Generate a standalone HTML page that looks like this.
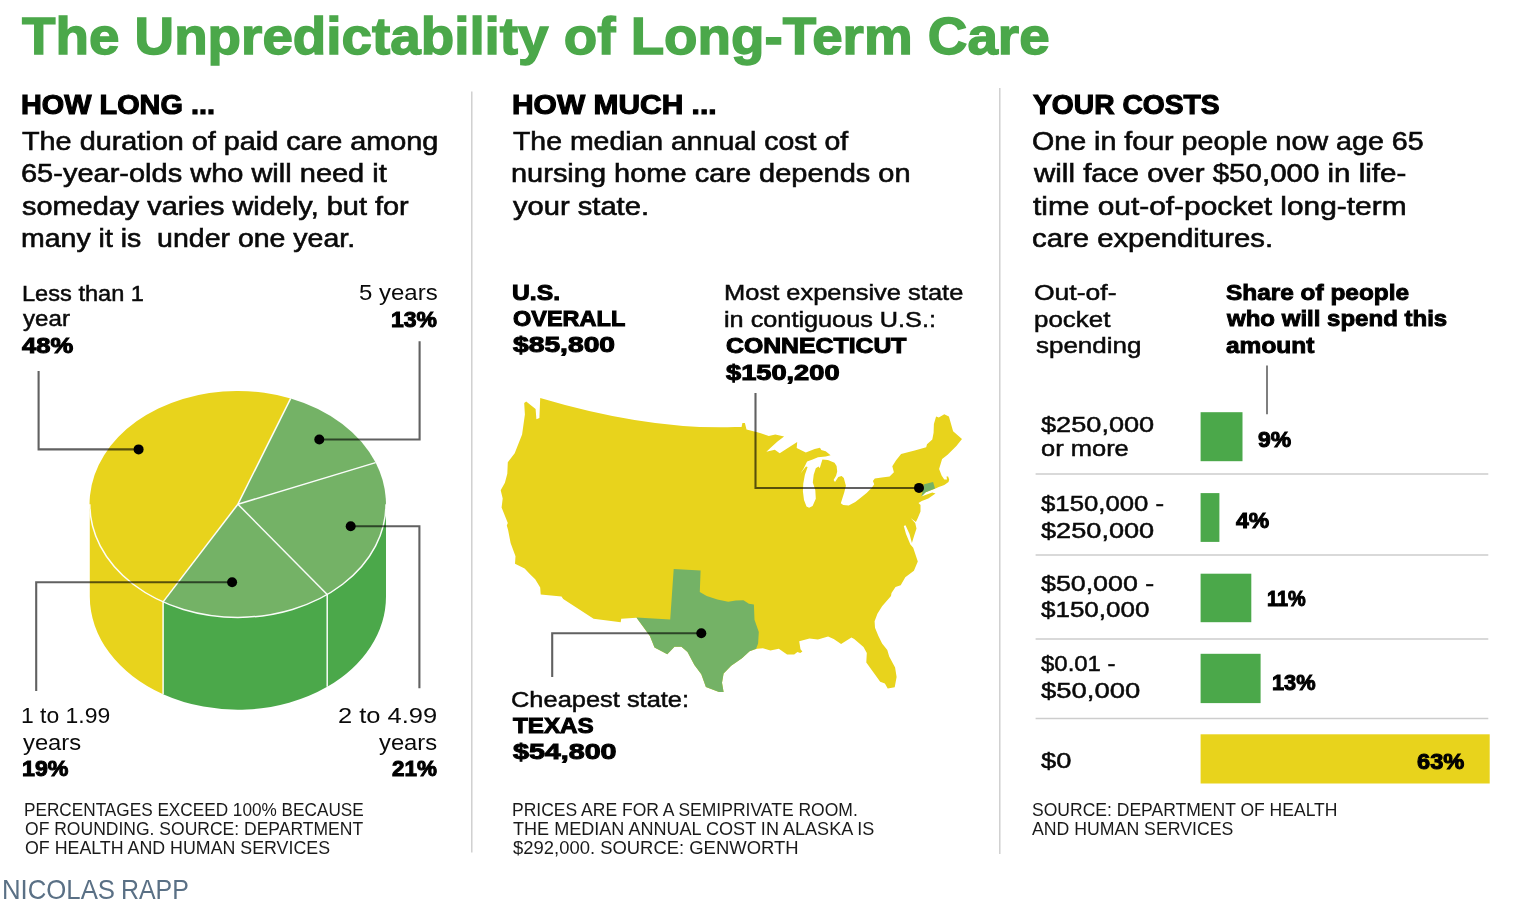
<!DOCTYPE html>
<html><head><meta charset="utf-8"><title>The Unpredictability of Long-Term Care</title>
<style>
html,body{margin:0;padding:0;background:#fff;}
body{width:1536px;height:913px;position:relative;overflow:hidden;font-family:"Liberation Sans",sans-serif;}
.t{position:absolute;white-space:pre;line-height:1;transform-origin:0 0;font-family:"Liberation Sans",sans-serif;}
</style></head><body>
<div id="g" style="position:absolute;left:0;top:0;width:1536px;height:870px;overflow:hidden;filter:blur(0.45px)">
<svg width="1536" height="913" viewBox="0 0 1536 913" style="position:absolute;left:0;top:0">
<path d="M386.0,504.2 A148.1,113.2 0 0 1 327.2,594.5 L327.2,686.8 A148.1,113.2 0 0 0 386.0,596.5 Z" fill="#4ba84a"/>
<path d="M327.2,594.5 A148.1,113.2 0 0 1 163.1,601.9 L163.1,694.2 A148.1,113.2 0 0 0 327.2,686.8 Z" fill="#4ba84a"/>
<path d="M163.1,601.9 A148.1,113.2 0 0 1 89.8,504.2 L89.8,596.5 A148.1,113.2 0 0 0 163.1,694.2 Z" fill="#e8d31c"/>
<path d="M237.9,504.2 L163.1,601.9 A148.1,113.2 0 0 1 290.7,398.4 Z" fill="#e8d31c"/>
<path d="M237.9,504.2 L290.7,398.4 A148.1,113.2 0 0 1 375.6,462.6 Z" fill="#74b266"/>
<path d="M237.9,504.2 L375.6,462.6 A148.1,113.2 0 0 1 327.2,594.5 Z" fill="#74b266"/>
<path d="M237.9,504.2 L327.2,594.5 A148.1,113.2 0 0 1 163.1,601.9 Z" fill="#74b266"/>
<path d="M237.9,504.2 L290.7,398.4" stroke="#fff" stroke-width="1.5" fill="none" stroke-opacity="0.95"/>
<path d="M237.9,504.2 L375.6,462.6" stroke="#fff" stroke-width="1.5" fill="none" stroke-opacity="0.95"/>
<path d="M237.9,504.2 L327.2,594.5" stroke="#fff" stroke-width="1.5" fill="none" stroke-opacity="0.95"/>
<path d="M237.9,504.2 L163.1,601.9" stroke="#fff" stroke-width="1.5" fill="none" stroke-opacity="0.95"/>
<path d="M327.2,594.5 L327.2,686.8" stroke="#fff" stroke-width="1.5" fill="none" stroke-opacity="0.95"/>
<path d="M163.1,601.9 L163.1,694.2" stroke="#fff" stroke-width="1.5" fill="none" stroke-opacity="0.95"/>
<path d="M386.0,504.2 A148.1,113.2 0 0 1 89.8,504.2" stroke="#fff" stroke-width="1.5" fill="none" stroke-opacity="0.95"/>
<path d="M38.6,371 V449.4 H138.6" stroke="#000" stroke-opacity="0.62" stroke-width="2.1" fill="none"/>
<path d="M419.6,341.2 V439.5 H319.3" stroke="#000" stroke-opacity="0.62" stroke-width="2.1" fill="none"/>
<path d="M36.2,691 V582.2 H232.1" stroke="#000" stroke-opacity="0.62" stroke-width="2.1" fill="none"/>
<path d="M419.4,688.3 V526.3 H350.7" stroke="#000" stroke-opacity="0.62" stroke-width="2.1" fill="none"/>
<circle cx="138.6" cy="449.4" r="5" fill="#000"/>
<circle cx="319.3" cy="439.5" r="5" fill="#000"/>
<circle cx="232.1" cy="582.2" r="5" fill="#000"/>
<circle cx="350.7" cy="526.3" r="5" fill="#000"/>
<path d="M540.2,397.9 Q648,429.95 735,427 L741.6,427 742.4,422.9 744.9,422.9 746.5,429.4 756.4,431.9 760,432.9 768.8,435.9 775.3,434.5 784.1,436.6 777.5,441.4 770.9,447.4 766.4,451.8 774.8,449.8 779.7,453.2 797.2,441.9 796.7,447.9 805.8,452.5 814.7,449 820,447.7 821.3,450.1 825.7,451.2 830.6,455.3 825.7,456.4 818,457.2 812.6,459.6 807.1,461.4
803.8,468.2 800.3,473.7 806,466.5 807.6,467.1
804.9,474.7 803.3,483.5 802.9,491.2 804,499.9 806.5,506.5 809.1,507.8 812.6,506 815.8,498.8 815.3,490.1 812.8,482.4 813.7,474.7 815.8,468.2 818.6,466.5 819.7,468.2 822.4,459.4
827.9,460 834.5,462.7 836.6,466 837.2,471.5 836.1,475.8 833.6,480 835,481.9 838.3,476.9 841.6,476.1 843.8,478 845.9,485.7 844.3,492.3 840.8,503.2
843.2,504.9 848.7,505.4 855.3,502.1 860.7,497.7 866.6,493.1 872,487.6 874.2,484.3 872.9,481 874.8,478.6
881.9,477.5 889.6,476.6 893.9,472.3 892.3,466.2 896.1,460.2 901.1,453.9
914.7,450.4 926.2,447.3 927,444.3 932.3,439.4 933.6,432.8 933.9,424.1 936.1,416.4 938.8,417.5 944.3,414.2 948.9,416.4 953.1,431.2 962,438.9 956.4,446 947.6,454.7 942.1,459.1 939.1,469 941.6,475.5 944.3,479.4 947,479.4 946.5,476.6 948.1,476.6 949.2,479.4 948.5,482.1 944.3,484.9 938.8,487 935,488.7
925.7,492.3 921.3,496.4
932.3,492.5 935.5,493.6 928.3,498.4 921.8,501 918.5,503
920.5,505 920.5,511.5 917.8,518.1 915.9,522.1
910.6,518.1 915.2,522.9
916.5,528.6 913.9,536.5 911.9,543.1
909.5,534 905.5,525.3 903.8,526 906,534 910.4,544.6
913.2,547.7 917.8,561.5 913.9,570.7 905.3,577.3 900.7,585.2 895.5,587.1 891.5,593
891,596.1 882.1,606.3 877.4,613.8 874.6,621.2 875,627.7 878.4,636.1 882.1,643.6 887.3,650.1 889.2,656.6 895.1,667.4 896.6,677.1 894.7,687.3 887.7,688.6 884.9,683.6 880.2,681.7 866.3,662.6 866.8,652.9 863.5,646.9 854.2,638.9 851.4,637.6 841.1,643.9 833.7,638.9 828.1,636.5 817.9,639.5 809.5,638.4 799.2,641.3 800.5,649.2 802.4,651.4 800.2,652.9 797.4,651.9 794.2,654.4 787.1,654.4 778.8,648.8 770.4,650.6 762.9,648.2 757,648.8
749.6,651.3 742,658.2 731.2,665.8 723.6,673.5 722,682.7 723.6,691.9 719,691.9 705.9,687 701.3,674.3 694.4,665.1 687.5,652 681.4,646.7 674.5,646.7 667.3,654.3 654.5,647.4 649.9,635.9 636.5,617.7
621.2,618.7 620.7,622.3 593.6,618.7 563.2,599 561.5,596.5 540.7,594.4
540.2,587.5 535.2,579.3 530.3,574.4 524.6,568.6 515,563.7 515.5,556.3 510.6,543.1 508.1,530 506.8,525.5 507.8,523.1 501.6,507.5 502.7,498.4 500.7,490.2 504.9,482.8 507.3,473.8 507.8,462.3 514.7,453.2 522.1,434.4 524.9,414.6 524.2,403.1 526.2,401.5 535.6,408.9 536.4,419.2 539.4,417.9 Z" fill="#e8d31c"/>
<path d="M636.4,617.5 L670.2,619.5 673.7,568.9 700.6,570.4 699.8,591.9 706.7,596 717.4,599.6 728.2,601.7 735.8,600.6 743.5,600.2 748.9,603.7 753.9,604.5 754.5,619.8 758.8,632.1 758.1,643.6 756.1,648.7 749.6,651.3 742,658.2 731.2,665.8 723.6,673.5 722,682.7 723.6,691.9 719,691.9 705.9,687 701.3,674.3 694.4,665.1 687.5,652 681.4,646.7 674.5,646.7 667.3,654.3 654.5,647.4 649.9,635.9 Z" fill="#74b266"/>
<path d="M924.1,484.3 L933.1,481.9 935,488.6 925.7,492.3 921.3,496.6 922.8,491 Z" fill="#74b266"/>
<path d="M755.5,393 V488 H919" stroke="#000" stroke-opacity="0.62" stroke-width="2.1" fill="none"/>
<path d="M552.2,677 V633.2 H701.2" stroke="#000" stroke-opacity="0.62" stroke-width="2.1" fill="none"/>
<circle cx="919" cy="487.9" r="5" fill="#000"/>
<circle cx="701.3" cy="633.2" r="5" fill="#000"/>
<rect x="1200.6" y="412.2" width="41.9" height="49.0" fill="#4ba84a"/>
<rect x="1200.6" y="493.1" width="18.8" height="48.8" fill="#4ba84a"/>
<rect x="1200.6" y="573.7" width="50.7" height="48.5" fill="#4ba84a"/>
<rect x="1200.6" y="653.8" width="60.0" height="49.3" fill="#4ba84a"/>
<rect x="1200.6" y="734.3" width="289.1" height="49.2" fill="#e8d31c"/>
<path d="M1035.6,474.0 H1488.3" stroke="#cdcdcd" stroke-width="1.4" fill="none"/>
<path d="M1035.6,555.0 H1488.3" stroke="#cdcdcd" stroke-width="1.4" fill="none"/>
<path d="M1035.6,639.0 H1488.3" stroke="#cdcdcd" stroke-width="1.4" fill="none"/>
<path d="M1035.6,718.5 H1488.3" stroke="#cdcdcd" stroke-width="1.4" fill="none"/>
<path d="M1267,365.5 V414.3" stroke="#555" stroke-width="1.5" fill="none"/>
<path d="M471.8,91.5 V852.5" stroke="#cdcdcd" stroke-width="1.4" fill="none"/>
<path d="M999.8,88 V854" stroke="#cdcdcd" stroke-width="1.4" fill="none"/>
</svg>
<div class="t" style="left:21.80px;top:11px;font-size:51.9px;transform:scaleX(1.0556);color:#4ba84a;font-weight:700;-webkit-text-stroke:1.4px #4ba84a;">The Unpredictability of Long-Term Care</div>
<div class="t" style="left:21.47px;top:91px;font-size:27.9px;transform:scaleX(1.0345);color:#000;font-weight:700;-webkit-text-stroke:1.1px #000;">HOW LONG ...</div>
<div class="t" style="left:511.53px;top:91px;font-size:27.9px;transform:scaleX(1.0733);color:#000;font-weight:700;-webkit-text-stroke:1.1px #000;">HOW MUCH ...</div>
<div class="t" style="left:1033.20px;top:91px;font-size:27.9px;transform:scaleX(1.0124);color:#000;font-weight:700;-webkit-text-stroke:1.1px #000;">YOUR COSTS</div>
<div class="t" style="left:21.80px;top:128px;font-size:26.2px;transform:scaleX(1.1001);color:#0a0a0a;-webkit-text-stroke:0.6px #0a0a0a;">The duration of paid care among</div>
<div class="t" style="left:20.89px;top:160px;font-size:26.2px;transform:scaleX(1.1071);color:#0a0a0a;-webkit-text-stroke:0.6px #0a0a0a;">65-year-olds who will need it</div>
<div class="t" style="left:22.00px;top:193px;font-size:26.2px;transform:scaleX(1.1039);color:#0a0a0a;-webkit-text-stroke:0.6px #0a0a0a;">someday varies widely, but for</div>
<div class="t" style="left:20.91px;top:225px;font-size:26.2px;transform:scaleX(1.0877);color:#0a0a0a;-webkit-text-stroke:0.6px #0a0a0a;">many it is  under one year.</div>
<div class="t" style="left:512.60px;top:128px;font-size:26.2px;transform:scaleX(1.0858);color:#0a0a0a;-webkit-text-stroke:0.6px #0a0a0a;">The median annual cost of</div>
<div class="t" style="left:511.49px;top:160px;font-size:26.2px;transform:scaleX(1.1066);color:#0a0a0a;-webkit-text-stroke:0.6px #0a0a0a;">nursing home care depends on</div>
<div class="t" style="left:512.60px;top:193px;font-size:26.2px;transform:scaleX(1.1124);color:#0a0a0a;-webkit-text-stroke:0.6px #0a0a0a;">your state.</div>
<div class="t" style="left:1032.11px;top:128px;font-size:26.2px;transform:scaleX(1.0934);color:#0a0a0a;-webkit-text-stroke:0.6px #0a0a0a;">One in four people now age 65</div>
<div class="t" style="left:1034.33px;top:160px;font-size:26.2px;transform:scaleX(1.1266);color:#0a0a0a;-webkit-text-stroke:0.6px #0a0a0a;">will face over $50,000 in life-</div>
<div class="t" style="left:1033.20px;top:193px;font-size:26.2px;transform:scaleX(1.1406);color:#0a0a0a;-webkit-text-stroke:0.6px #0a0a0a;">time out-of-pocket long-term</div>
<div class="t" style="left:1032.08px;top:225px;font-size:26.2px;transform:scaleX(1.1189);color:#0a0a0a;-webkit-text-stroke:0.6px #0a0a0a;">care expenditures.</div>
<div class="t" style="left:21.76px;top:282px;font-size:22.7px;transform:scaleX(1.0398);color:#0a0a0a;-webkit-text-stroke:0.5px #0a0a0a;">Less than 1</div>
<div class="t" style="left:22.80px;top:307px;font-size:22.7px;transform:scaleX(1.0631);color:#0a0a0a;-webkit-text-stroke:0.5px #0a0a0a;">year</div>
<div class="t" style="left:22.20px;top:335px;font-size:21.8px;transform:scaleX(1.1743);color:#000;font-weight:700;-webkit-text-stroke:1.0px #000;">48%</div>
<div class="t" style="left:358.60px;top:281px;font-size:22.7px;transform:scaleX(1.0572);color:#0a0a0a;">5 years</div>
<div class="t" style="left:390.75px;top:309px;font-size:21.8px;transform:scaleX(1.0530);color:#000;font-weight:700;-webkit-text-stroke:1.0px #000;">13%</div>
<div class="t" style="left:21.49px;top:704px;font-size:22.7px;transform:scaleX(1.0093);color:#0a0a0a;">1 to 1.99</div>
<div class="t" style="left:22.50px;top:731px;font-size:22.7px;transform:scaleX(1.0482);color:#0a0a0a;">years</div>
<div class="t" style="left:21.74px;top:758px;font-size:21.8px;transform:scaleX(1.0648);color:#000;font-weight:700;-webkit-text-stroke:1.0px #000;">19%</div>
<div class="t" style="left:337.78px;top:704px;font-size:22.7px;transform:scaleX(1.1235);color:#0a0a0a;">2 to 4.99</div>
<div class="t" style="left:379.10px;top:731px;font-size:22.7px;transform:scaleX(1.0482);color:#0a0a0a;">years</div>
<div class="t" style="left:391.80px;top:758px;font-size:21.8px;transform:scaleX(1.0287);color:#000;font-weight:700;-webkit-text-stroke:1.0px #000;">21%</div>
<div class="t" style="left:24.35px;top:801px;font-size:18.2px;transform:scaleX(0.9451);color:#1a1a1a;">PERCENTAGES EXCEED 100% BECAUSE</div>
<div class="t" style="left:25.30px;top:820px;font-size:18.2px;transform:scaleX(0.9633);color:#1a1a1a;">OF ROUNDING. SOURCE: DEPARTMENT</div>
<div class="t" style="left:25.30px;top:839px;font-size:18.2px;transform:scaleX(0.9789);color:#1a1a1a;">OF HEALTH AND HUMAN SERVICES</div>
<div class="t" style="left:511.54px;top:801px;font-size:18.2px;transform:scaleX(0.9629);color:#1a1a1a;">PRICES ARE FOR A SEMIPRIVATE ROOM.</div>
<div class="t" style="left:512.50px;top:820px;font-size:18.2px;transform:scaleX(0.9930);color:#1a1a1a;">THE MEDIAN ANNUAL COST IN ALASKA IS</div>
<div class="t" style="left:512.50px;top:839px;font-size:18.2px;transform:scaleX(1.0138);color:#1a1a1a;">$292,000. SOURCE: GENWORTH</div>
<div class="t" style="left:1031.90px;top:801px;font-size:18.2px;transform:scaleX(0.9637);color:#1a1a1a;">SOURCE: DEPARTMENT OF HEALTH</div>
<div class="t" style="left:1031.90px;top:820px;font-size:18.2px;transform:scaleX(0.9733);color:#1a1a1a;">AND HUMAN SERVICES</div>
<div class="t" style="left:511.97px;top:282px;font-size:21.8px;transform:scaleX(1.1326);color:#000;font-weight:700;-webkit-text-stroke:1.0px #000;">U.S.</div>
<div class="t" style="left:513.10px;top:308px;font-size:21.8px;transform:scaleX(1.0776);color:#000;font-weight:700;-webkit-text-stroke:1.0px #000;">OVERALL</div>
<div class="t" style="left:513.10px;top:334px;font-size:21.8px;transform:scaleX(1.2952);color:#000;font-weight:700;-webkit-text-stroke:1.0px #000;">$85,800</div>
<div class="t" style="left:724.48px;top:281px;font-size:22.7px;transform:scaleX(1.1229);color:#0a0a0a;-webkit-text-stroke:0.5px #0a0a0a;">Most expensive state</div>
<div class="t" style="left:724.49px;top:308px;font-size:22.7px;transform:scaleX(1.1130);color:#0a0a0a;-webkit-text-stroke:0.5px #0a0a0a;">in contiguous U.S.:</div>
<div class="t" style="left:725.60px;top:335px;font-size:21.8px;transform:scaleX(1.1380);color:#000;font-weight:700;-webkit-text-stroke:1.0px #000;">CONNECTICUT</div>
<div class="t" style="left:725.60px;top:362px;font-size:21.8px;transform:scaleX(1.2489);color:#000;font-weight:700;-webkit-text-stroke:1.0px #000;">$150,200</div>
<div class="t" style="left:511.38px;top:688px;font-size:22.7px;transform:scaleX(1.1206);color:#0a0a0a;-webkit-text-stroke:0.5px #0a0a0a;">Cheapest state:</div>
<div class="t" style="left:513.00px;top:715px;font-size:21.8px;transform:scaleX(1.1091);color:#000;font-weight:700;-webkit-text-stroke:1.0px #000;">TEXAS</div>
<div class="t" style="left:513.00px;top:741px;font-size:21.8px;transform:scaleX(1.3143);color:#000;font-weight:700;-webkit-text-stroke:1.0px #000;">$54,800</div>
<div class="t" style="left:1034.43px;top:281px;font-size:22.7px;transform:scaleX(1.1686);color:#0a0a0a;-webkit-text-stroke:0.5px #0a0a0a;">Out-of-</div>
<div class="t" style="left:1034.46px;top:308px;font-size:22.7px;transform:scaleX(1.1419);color:#0a0a0a;-webkit-text-stroke:0.5px #0a0a0a;">pocket</div>
<div class="t" style="left:1035.60px;top:334px;font-size:22.7px;transform:scaleX(1.1446);color:#0a0a0a;-webkit-text-stroke:0.5px #0a0a0a;">spending</div>
<div class="t" style="left:1225.60px;top:282px;font-size:22.1px;transform:scaleX(1.1048);color:#000;font-weight:700;-webkit-text-stroke:0.9px #000;">Share of people</div>
<div class="t" style="left:1226.69px;top:308px;font-size:22.1px;transform:scaleX(1.0873);color:#000;font-weight:700;-webkit-text-stroke:0.9px #000;">who will spend this</div>
<div class="t" style="left:1225.60px;top:335px;font-size:22.1px;transform:scaleX(1.1079);color:#000;font-weight:700;-webkit-text-stroke:0.9px #000;">amount</div>
<div class="t" style="left:1041.30px;top:413px;font-size:22.7px;transform:scaleX(1.1965);color:#0a0a0a;-webkit-text-stroke:0.5px #0a0a0a;">$250,000</div>
<div class="t" style="left:1041.30px;top:437px;font-size:22.7px;transform:scaleX(1.1231);color:#0a0a0a;-webkit-text-stroke:0.5px #0a0a0a;">or more</div>
<div class="t" style="left:1041.30px;top:492px;font-size:22.7px;transform:scaleX(1.1348);color:#0a0a0a;-webkit-text-stroke:0.5px #0a0a0a;">$150,000 -</div>
<div class="t" style="left:1041.30px;top:519px;font-size:22.7px;transform:scaleX(1.1965);color:#0a0a0a;-webkit-text-stroke:0.5px #0a0a0a;">$250,000</div>
<div class="t" style="left:1041.30px;top:572px;font-size:22.7px;transform:scaleX(1.1802);color:#0a0a0a;-webkit-text-stroke:0.5px #0a0a0a;">$50,000 -</div>
<div class="t" style="left:1041.30px;top:598px;font-size:22.7px;transform:scaleX(1.1455);color:#0a0a0a;-webkit-text-stroke:0.5px #0a0a0a;">$150,000</div>
<div class="t" style="left:1041.30px;top:652px;font-size:22.7px;transform:scaleX(1.0559);color:#0a0a0a;-webkit-text-stroke:0.5px #0a0a0a;">$0.01 -</div>
<div class="t" style="left:1041.30px;top:679px;font-size:22.7px;transform:scaleX(1.2089);color:#0a0a0a;-webkit-text-stroke:0.5px #0a0a0a;">$50,000</div>
<div class="t" style="left:1041.30px;top:749px;font-size:22.7px;transform:scaleX(1.2017);color:#0a0a0a;-webkit-text-stroke:0.5px #0a0a0a;">$0</div>
<div class="t" style="left:1257.50px;top:429px;font-size:21.8px;transform:scaleX(1.0535);color:#000;font-weight:700;-webkit-text-stroke:1.0px #000;">9%</div>
<div class="t" style="left:1235.60px;top:510px;font-size:21.8px;transform:scaleX(1.0535);color:#000;font-weight:700;-webkit-text-stroke:1.0px #000;">4%</div>
<div class="t" style="left:1266.59px;top:588px;font-size:21.8px;transform:scaleX(0.9134);color:#000;font-weight:700;-webkit-text-stroke:1.0px #000;">11%</div>
<div class="t" style="left:1272.10px;top:672px;font-size:21.8px;transform:scaleX(0.9986);color:#000;font-weight:700;-webkit-text-stroke:1.0px #000;">13%</div>
<div class="t" style="left:1416.90px;top:751px;font-size:21.8px;transform:scaleX(1.0841);color:#000;font-weight:700;-webkit-text-stroke:1.0px #000;">63%</div>
</div>
<div class="t" style="left:2.05px;top:876px;font-size:27.8px;transform:scaleX(0.9263);color:#5a7085;">NICOLAS</div>
<div class="t" style="left:121.21px;top:876px;font-size:27.8px;transform:scaleX(0.8966);color:#5a7085;">RAPP</div>
</body></html>
